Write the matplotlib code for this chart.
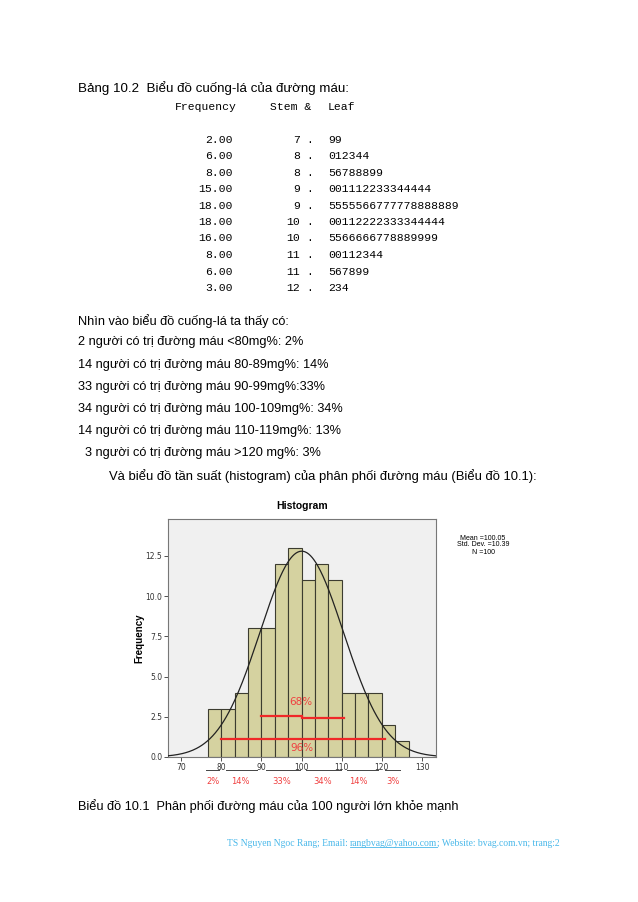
import numpy as np
import matplotlib.pyplot as plt

# --- data ---
stem_freq = ["2.00", "6.00", "8.00", "15.00", "18.00", "18.00", "16.00", "8.00", "6.00", "3.00"]
stems = ["7", "8", "8", "9", "9", "10", "10", "11", "11", "12"]
leaves = ["99", "012344", "56788899", "001112233344444", "5555566777778888889",
          "00112222333344444", "5566666778889999", "00112344", "567899", "234"]

summary_lines = [
    "2 người có trị đường máu <80mg%: 2%",
    "14 người có trị đường máu 80-89mg%: 14%",
    "33 người có trị đường máu 90-99mg%:33%",
    "34 người có trị đường máu 100-109mg%: 34%",
    "14 người có trị đường máu 110-119mg%: 13%",
]

bin_start = 230 / 3
bin_width = 10 / 3
counts = [3, 3, 4, 8, 8, 12, 13, 11, 12, 11, 4, 4, 4, 2, 1]
mean, sd, n = 100.05, 10.39, 100

band_labels = ["2%", "14%", "33%", "34%", "14%", "3%"]
band_label_x = [77.9, 84.7, 95.0, 105.2, 114.2, 122.8]
band_spans = [(76.2, 79.5), (81.2, 88.8), (91.1, 99.6), (101.2, 109.9), (111.2, 119.0), (120.7, 124.4)]

W, H = 638, 902
fig = plt.figure(figsize=(W / 100, H / 100), dpi=100)
fig.patch.set_facecolor('white')

SANS = ['Liberation Sans', 'DejaVu Sans']
MONO = ['Liberation Mono', 'DejaVu Sans Mono']


def ptext(x, y, s, **kw):
    kw.setdefault('va', 'center')
    kw.setdefault('family', SANS)
    return fig.text(x / W, 1 - y / H, s, **kw)


BODY = 9.2
ptext(78, 88, "Bảng 10.2  Biểu đồ cuống-lá của đường máu:", fontsize=9.6)

# stem-and-leaf table
MS = 8.2
ptext(175, 107, "Frequency", family=MONO, fontsize=MS)
ptext(270, 107, "Stem &", family=MONO, fontsize=MS)
ptext(328, 107, "Leaf", family=MONO, fontsize=MS)
row_y = [140, 156, 172.7, 189.3, 206, 222, 238.3, 255, 271.7, 287.7]
for y, f, s, l in zip(row_y, stem_freq, stems, leaves):
    ptext(233, y, f, family=MONO, fontsize=MS, ha='right')
    ptext(300, y, s, family=MONO, fontsize=MS, ha='right')
    ptext(306, y, ".", family=MONO, fontsize=MS)
    ptext(328, y, l, family=MONO, fontsize=MS)

ptext(78, 321, "Nhìn vào biểu đồ cuống-lá ta thấy có:", fontsize=BODY)
for i, s in enumerate(summary_lines):
    ptext(78, 342.5 + i * 22.2, s, fontsize=BODY)
ptext(85, 453.3, "3 người có trị đường máu >120 mg%: 3%", fontsize=BODY)
ptext(109, 475.7, "Và biểu đồ tần suất (histogram) của phân phối đường máu (Biểu đồ 10.1):", fontsize=9.4)

# --- histogram ---
ax = fig.add_axes([168 / W, 1 - 757 / H, 268 / W, 238 / H])
ax.set_facecolor('#f0f0f0')
lefts = [bin_start + i * bin_width for i in range(len(counts))]
ax.bar(lefts, counts, width=bin_width, align='edge', color='#d5d2a0',
       edgecolor='#3c3c30', linewidth=0.8, zorder=2)

xs = np.linspace(66.7, 133.5, 300)
ys = n * bin_width * np.exp(-0.5 * ((xs - mean) / sd) ** 2) / (sd * np.sqrt(2 * np.pi))
ax.plot(xs, ys, color='#222222', linewidth=0.9, zorder=3)

ax.set_xlim(66.76, 133.48)
ax.set_ylim(0, 14.8)
ax.set_xticks([70, 80, 90, 100, 110, 120, 130])
ax.set_yticks([0, 2.5, 5, 7.5, 10, 12.5])
ax.set_yticklabels(["0.0", "2.5", "5.0", "7.5", "10.0", "12.5"])
ax.tick_params(labelsize=5.5, length=3, width=0.6, colors='#333333', pad=1)
for sp in ax.spines.values():
    sp.set_color('#777777')
    sp.set_linewidth(0.8)

ax.set_title("Histogram", fontsize=7.5, fontweight='bold', family=SANS, pad=7)
ax.set_ylabel("Frequency", fontsize=7, fontweight='bold', family=SANS, labelpad=1)

# 68% and 96% bands
red = '#f02828'
ax.plot([90, 100], [2.55, 2.55], color=red, linewidth=1.6, zorder=4)
ax.plot([100, 110.5], [2.45, 2.45], color=red, linewidth=1.6, zorder=4)
ax.plot([80, 120.7], [1.15, 1.15], color=red, linewidth=1.6, zorder=4)
ax.text(99.8, 3.44, "68%", color='#f04040', fontsize=7.5, ha='center', va='center', zorder=5)
ax.text(100, 0.58, "96%", color='#f04040', fontsize=7.5, ha='center', va='center', zorder=5)

for (a, b), lx, lab in zip(band_spans, band_label_x, band_labels):
    ax.plot([a, b], [-0.82, -0.82], color='#444444', linewidth=0.7, clip_on=False)
    ax.text(lx, -1.5, lab, color='#f04040', fontsize=6, ha='center', va='center', clip_on=False)

ptext(483, 545, "Mean =100.05\nStd. Dev. =10.39\nN =100", fontsize=5, ha='center',
      linespacing=1.0)

ptext(78, 806, "Biểu đồ 10.1  Phân phối đường máu của 100 người lớn khỏe mạnh", fontsize=BODY)

# footer
blue = '#49b8ea'
SERIF = ['Liberation Serif', 'DejaVu Serif']
renderer = fig.canvas.get_renderer()
parts = ["TS Nguyen Ngoc Rang; Email: ", "rangbvag@yahoo.com", "; Website: bvag.com.vn; trang:2"]
x = 227
for i, p in enumerate(parts):
    t = ptext(x, 843, p, family=SERIF, fontsize=6.95, color=blue)
    bb = t.get_window_extent(renderer)
    if i == 1:
        fig.add_artist(plt.Line2D([bb.x0 / W, bb.x1 / W], [(bb.y0 + 1) / H, (bb.y0 + 1) / H],
                                  color=blue, linewidth=0.6))
    x += bb.width

fig.savefig("out.png", dpi=100)
